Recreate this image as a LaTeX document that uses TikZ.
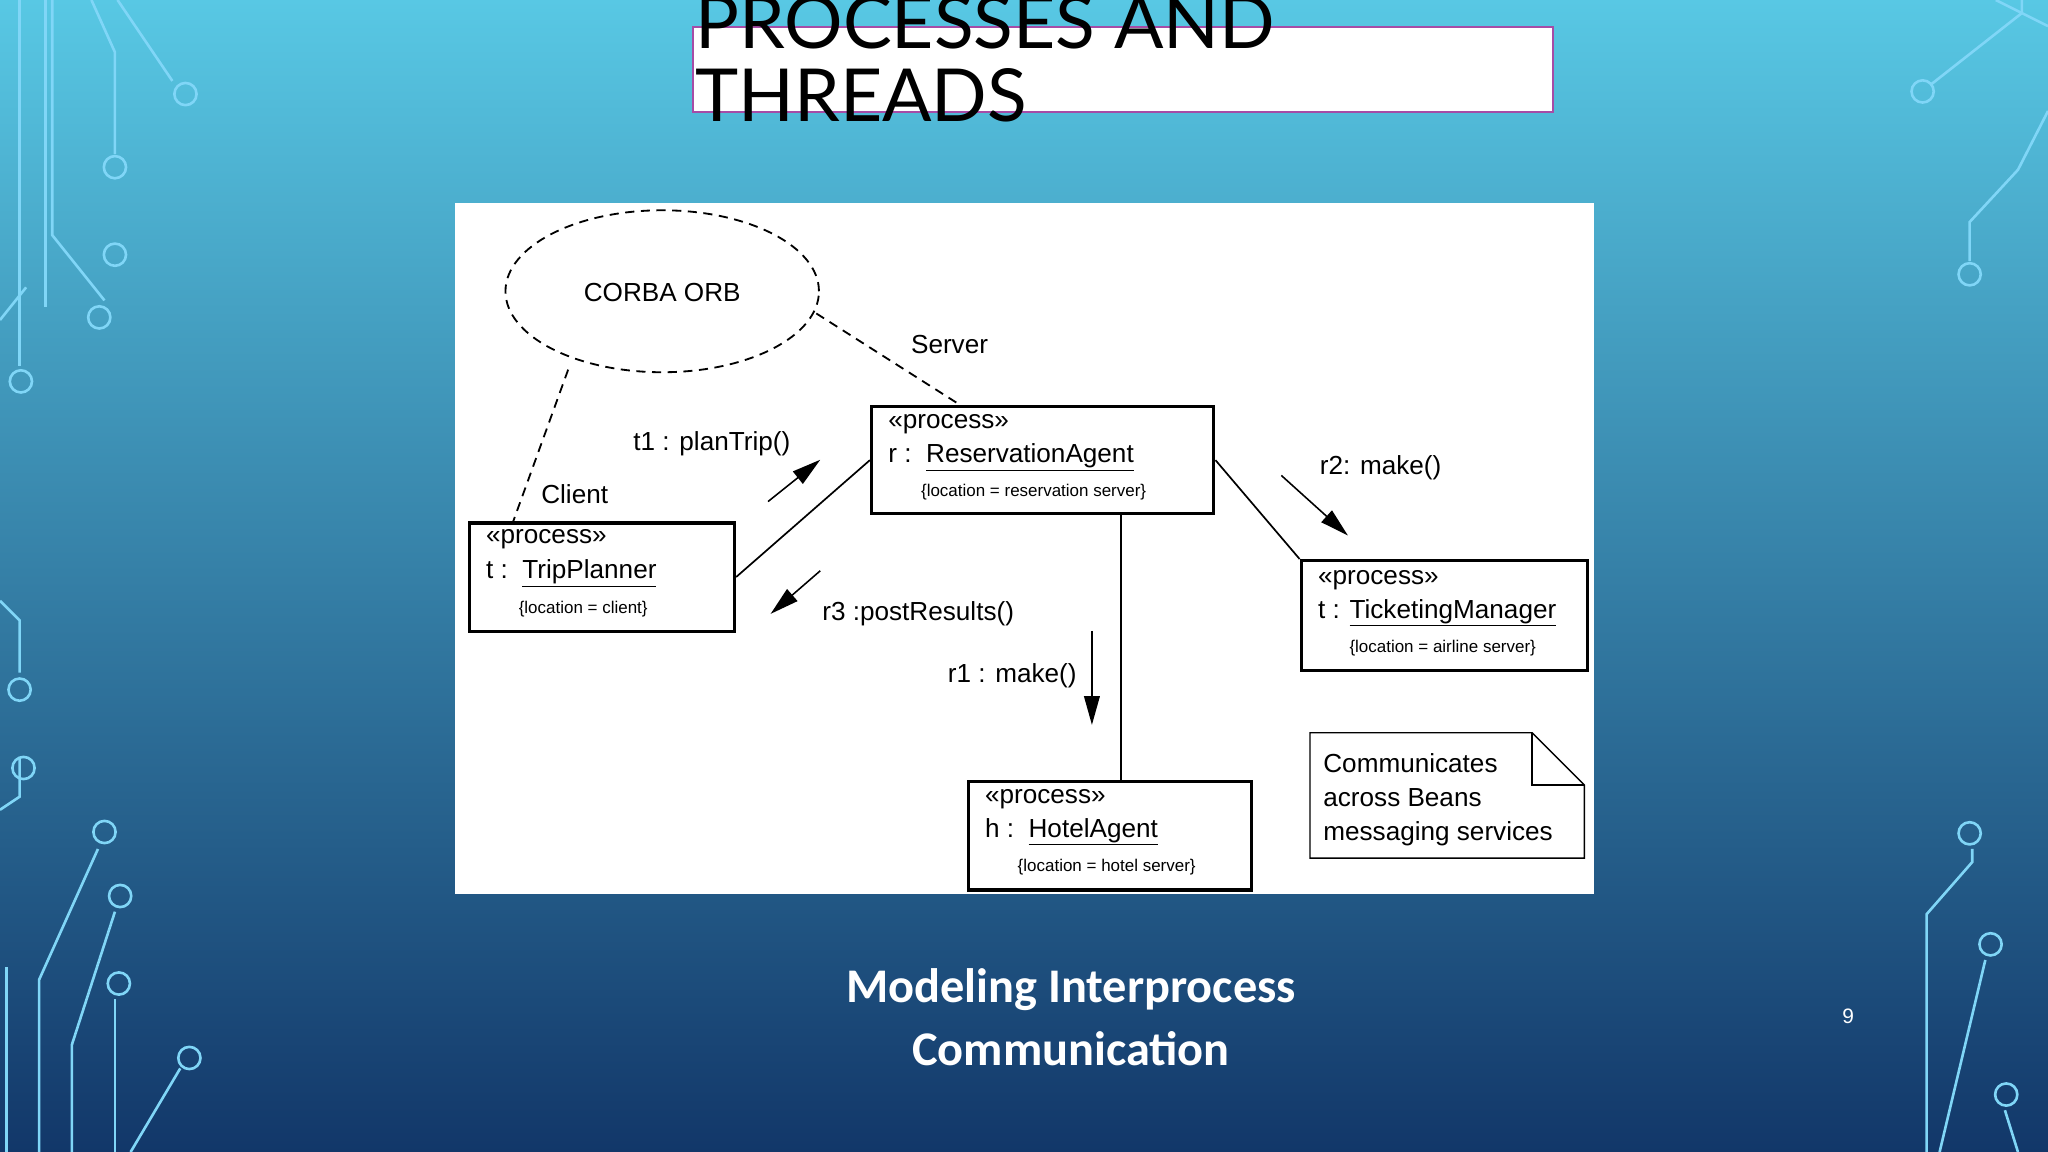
\documentclass[tikz,border=0pt]{standalone}
\usepackage{fontspec}
\setmainfont{Liberation Sans}
\newfontfamily\capfont{Carlito}
\newfontfamily\titlefont{Lato}
\usetikzlibrary{shapes,positioning,arrows.meta}
\definecolor{bgtop}{RGB}{88,200,228}
\definecolor{bgmid}{RGB}{40,140,190}
\definecolor{bgbot}{RGB}{18,55,105}
\tikzset{
proc/.style={rectangle,draw=black,line width=2.6pt,fill=white,anchor=north west,inner sep=0pt},
ptext/.style={anchor=west,inner sep=0pt,font=\fontsize{20}{21}\selectfont},
loc/.style={anchor=west,inner sep=0pt,font=\fontsize{13}{14}\selectfont},
lbl/.style={inner sep=0pt,font=\fontsize{20}{21}\selectfont},
msg/.style={line width=1.2pt,-{Triangle[length=22pt,width=12pt]}},
dashline/.style={dash pattern=on 7pt off 5pt,line width=1.4pt},
deco/.style={draw=cyan!50!white,line width=2pt},
dot/.style={circle,draw=cyan!50!white,line width=2pt,minimum size=17pt,inner sep=0pt}
}
\begin{document}
\begin{tikzpicture}[x=1pt,y=-1pt]
\useasboundingbox (0,0) rectangle (1568,882);
\shade[top color=bgtop,middle color=bgmid,bottom color=bgbot] (0,0) rectangle (1568,882);

% circuit traces
\draw[deco] (15,0) -- (15,280); \draw[deco] (40,0) -- (40,180) -- (80,230);
\draw[deco] (70,0) -- (88,40) -- (88,118); \draw[deco] (90,0) -- (132,62);
\draw[deco] (35,0) -- (35,235); \draw[deco] (0,245) -- (20,220);
\draw[deco] (0,460) -- (15,475) -- (15,515);
\draw[deco] (0,620) -- (15,610) -- (15,580);
\draw[deco] (5,882) -- (5,740); \draw[deco] (30,882) -- (30,750) -- (75,650);
\draw[deco] (55,882) -- (55,800) -- (88,698); \draw[deco] (88,882) -- (88,765);
\draw[deco] (100,882) -- (138,818);
\node[dot] (l1) at (142,72) {}; \node[dot] (l2) at (88,128) {}; \node[dot] (l3) at (88,195) {};
\node[dot] (l4) at (76,243) {}; \node[dot] (l5) at (16,292) {}; \node[dot] (l6) at (15,528) {};
\node[dot] (l7) at (18,588) {}; \node[dot] (l8) at (80,637) {}; \node[dot] (l9) at (92,686) {};
\node[dot] (l10) at (91,753) {}; \node[dot] (l11) at (145,810) {};
\draw[deco] (1568,20) -- (1528,0); \draw[deco] (1548,0) -- (1548,10) -- (1478,65);
\draw[deco] (1568,85) -- (1545,130) -- (1508,170) -- (1508,200);
\draw[deco] (1475,882) -- (1475,700) -- (1510,660) -- (1510,650);
\draw[deco] (1485,882) -- (1520,735); \draw[deco] (1545,882) -- (1535,850);
\node[dot] (r1) at (1472,70) {}; \node[dot] (r2) at (1508,210) {};
\node[dot] (r3) at (1508,638) {}; \node[dot] (r4) at (1524,723) {}; \node[dot] (r5) at (1536,838) {};

% title
\node[rectangle,draw=violet!70!white,line width=1.5pt,fill=white,minimum width=658pt,minimum height=65pt,anchor=north west] (tbox) at (530,20) {};
\node[anchor=north west,inner sep=0pt,align=left,font=\titlefont\fontsize{56}{56}\selectfont] (title) at (532,-4) {PROCESSES AND\\THREADS};

% picture panel
\node[rectangle,fill=white,minimum width=872pt,minimum height=529pt,anchor=north west,inner sep=0pt] (panel) at (348,155) {};

\node[ellipse,draw,dashline,minimum width=240pt,minimum height=124pt] (orb) at (507,223) {};
\node[lbl] (orbt) at (507,224) {CORBA ORB};

\node[proc,minimum width=203pt,minimum height=83pt] (tp) at (358,399) {};
\node[ptext] (tp1) at (372,413) {«process»};
\node[ptext] (tp2) at (372,439) {t :\ \ \underline{TripPlanner}};
\node[loc] (tp3) at (397,466) {\{location = client\}};

\node[proc,minimum width=262pt,minimum height=82pt] (ra) at (666,310) {};
\node[ptext] (ra1) at (680,325) {«process»};
\node[ptext] (ra2) at (680,350) {r :\ \ \underline{ReservationAgent}};
\node[loc] (ra3) at (705,377) {\{location = reservation server\}};

\node[proc,minimum width=219pt,minimum height=84pt] (tm) at (995,428) {};
\node[ptext] (tm1) at (1009,444) {«process»};
\node[ptext] (tm2) at (1009,469) {t : \underline{TicketingManager}};
\node[loc] (tm3) at (1033,496) {\{location = airline server\}};

\node[proc,minimum width=217pt,minimum height=83pt] (ha) at (740,597) {};
\node[ptext] (ha1) at (754,612) {«process»};
\node[ptext] (ha2) at (754,637) {h :\ \ \underline{HotelAgent}};
\node[loc] (ha3) at (779,664) {\{location = hotel server\}};

% note
\draw[line width=1pt] (1003,561) -- (1173,561) -- (1213,601) -- (1213,657) -- (1003,657) -- cycle;
\draw[line width=1pt] (1173,561) -- (1173,601) -- (1213,601);
\node[anchor=north west,inner sep=0pt,align=left,font=\fontsize{20}{26}\selectfont] (note) at (1013,577) {Communicates\\across Beans\\messaging services};

% links
\coordinate (raS) at (858,392); \coordinate (haN) at (858,597);
\coordinate (orbS) at (625,240); \coordinate (raN) at (735,310);
\coordinate (orbC) at (435,283); \coordinate (tpN) at (393,399);
\draw[line width=1.3pt] (tp.east) -- (ra.west);
\draw[line width=1.3pt] (ra.east) -- (tm.north west);
\draw[line width=1.3pt] (raS) -- (haN);
\draw[dashline] (orbS) -- (raN);
\draw[dashline] (orbC) -- (tpN);
\node[lbl] (srv) at (727,264) {Server};
\node[lbl] (cli) at (440,378) {Client};

% messages
\coordinate (m1a) at (588,384); \coordinate (m1b) at (628,352);
\draw[msg] (m1a) -- (m1b);
\node[lbl] (m1) at (545,340) {t1 : planTrip()};
\coordinate (m3a) at (628,437); \coordinate (m3b) at (590,470);
\draw[msg] (m3a) -- (m3b);
\node[lbl] (m3) at (703,470) {r3 :postResults()};
\coordinate (m2a) at (981,364); \coordinate (m2b) at (1032,410);
\draw[msg] (m2a) -- (m2b);
\node[lbl] (m2) at (1057,358) {r2: make()};
\coordinate (m4a) at (836,483); \coordinate (m4b) at (836,555);
\draw[msg] (m4a) -- (m4b);
\node[lbl] (m4) at (775,517) {r1 : make()};

% caption
\node[text=white,align=center,font=\capfont\bfseries\fontsize{37}{48}\selectfont] (cap) at (820,779) {Modeling Interprocess\\Communication};
\node[text=white,font=\fontsize{16}{18}\selectfont] (pg) at (1415,778) {9};
\end{tikzpicture}
\end{document}
